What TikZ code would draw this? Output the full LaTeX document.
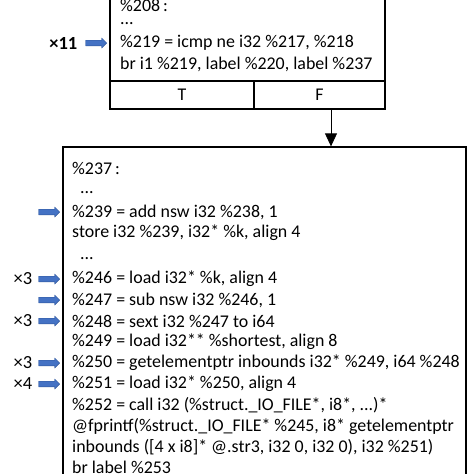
\documentclass[tikz,border=0pt]{standalone}
\usepackage{fontspec}
\setmainfont{Carlito}
\usetikzlibrary{arrows.meta,shapes.arrows,positioning}
\definecolor{hotblue}{RGB}{68,114,196}
\definecolor{hotedge}{RGB}{47,85,151}
\tikzset{
  codeline/.style = {anchor=west,inner sep=0pt,font=\fontsize{17.9}{20}\selectfont},
  blockbox/.style = {draw,line width=1.3pt,inner sep=0pt},
  cellbox/.style  = {blockbox,font=\fontsize{17.9}{20}\selectfont},
  hotarr/.style   = {single arrow,fill=hotblue,draw=hotedge,line width=0.4pt,
                     inner xsep=0pt,inner ysep=2.6pt,
                     single arrow head extend=2.2pt,
                     minimum height=21pt},
  countlbl/.style = {inner sep=0pt,font=\fontsize{18.5}{20}\selectfont},
  flowarr/.style  = {-{Triangle[length=13pt,width=12pt]},line width=0.8pt}
}
\begin{document}
\begin{tikzpicture}[x=1pt,y=-1pt]
  \useasboundingbox (0,0) rectangle (474,474);
  \clip (0,0) rectangle (474,474);
  % block %208
  \node[blockbox,minimum width=275pt,minimum height=111pt] (blk208) at (247.5,25.5) {};
  \node[cellbox,minimum width=144pt,minimum height=28pt] (tcell) at (182,95) {T};
  \node[cellbox,minimum width=131pt,minimum height=28pt] (fcell) at (319.5,95) {F};
  \node[codeline] (l208) at (120,5)  {\%208\,:};
  \node[codeline] (d208) at (120,24) {...};
  \node[codeline] (l219) at (120,43) {\%219 = icmp ne i32 \%217, \%218};
  \node[codeline] (lbr)  at (120,64) {br i1 \%219, label \%220, label \%237};
  \node[hotarr,left=13pt of l219] (a219) {};
  \node[countlbl,left=8pt of a219,font=\fontsize{18.5}{20}\selectfont\bfseries] (c219) {×11};
  % block %237
  \node[blockbox,minimum width=403pt,minimum height=353pt] (blk237) at (264.5,323.5) {};
  \draw[flowarr] ([xshift=11.5pt]fcell.south) -- ([xshift=11.5pt]fcell.south |- blk237.north);
  \node[codeline] (l237) at (72,168) {\%237\,:};
  \node[codeline] (d237) at (80,193) {...};
  \node[codeline] (l239) at (72,212) {\%239 = add nsw i32 \%238, 1};
  \node[codeline] (lst)  at (72,233) {store i32 \%239, i32* \%k, align 4};
  \node[codeline] (d239) at (80,259) {...};
  \node[codeline] (l246) at (72,279) {\%246 = load i32* \%k, align 4};
  \node[codeline] (l247) at (72,300) {\%247 = sub nsw i32 \%246, 1};
  \node[codeline] (l248) at (72,321) {\%248 = sext i32 \%247 to i64};
  \node[codeline] (l249) at (72,342) {\%249 = load i32** \%shortest, align 8};
  \node[codeline] (l250) at (72,363) {\%250 = getelementptr inbounds i32* \%249, i64 \%248};
  \node[codeline] (l251) at (72,384) {\%251 = load i32* \%250, align 4};
  \node[codeline] (l252) at (72,405) {\%252 = call i32 (\%struct.\_IO\_FILE*, i8*, ...)*};
  \node[codeline] (l252b) at (72,426) {@fprintf(\%struct.\_IO\_FILE* \%245, i8* getelementptr};
  \node[codeline] (l252c) at (72,447) {inbounds ([4 x i8]* @.str3, i32 0, i32 0), i32 \%251)};
  \node[codeline] (lbr2) at (72,467) {br label \%253};
  \foreach \ln in {l239,l246,l247,l248,l250,l251}
    \node[hotarr,left=12pt of \ln] (a\ln) {};
  \node[countlbl,left=6pt of al246] (c246) {×3};
  \node[countlbl,left=6pt of al248] (c248) {×3};
  \node[countlbl,left=6pt of al250] (c250) {×3};
  \node[countlbl,left=6pt of al251] (c251) {×4};
\end{tikzpicture}
\end{document}
